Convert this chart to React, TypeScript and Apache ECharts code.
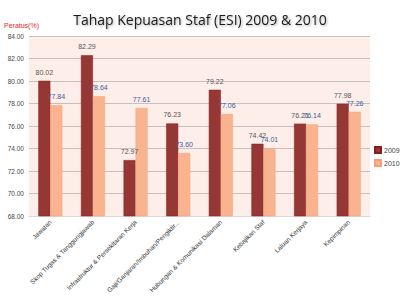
import React, { useEffect, useRef } from "react";
import * as echarts from "echarts";

const categories = [
  "Jawatan",
  "Skop Tugas & Tanggungjawab",
  "Infrastruktur & Persekitaran Kerja",
  "Gaji/Ganjaran/Imbuhan/Pengiktir...",
  "Hubungan & Komunikasi Dalaman",
  "Kebajikan Staf",
  "Laluan Kerjaya",
  "Kepimpinan",
];
const values2009 = [80.02, 82.29, 72.97, 76.23, 79.22, 74.42, 76.21, 77.98];
const values2010 = [77.84, 78.64, 77.61, 73.6, 77.06, 74.01, 76.14, 77.26];

export default function App() {
  const ref = useRef<HTMLDivElement>(null);
  useEffect(() => {
    document.body.style.margin = "0";
    const chart = echarts.init(ref.current!, null, { renderer: "svg" });
    chart.setOption({
      animation: false,
      backgroundColor: "#ffffff",
      title: {
        text: "Tahap Kepuasan Staf (ESI) 2009 & 2010",
        left: "center",
        top: 7,
        textStyle: {
          fontFamily: "Open Sans",
          fontSize: 14,
          fontWeight: 500,
          color: "#1a1a1a",
          textShadowColor: "rgba(0,0,0,0.35)",
          textShadowBlur: 2,
          textShadowOffsetX: 1,
          textShadowOffsetY: 1,
        },
      },
      graphic: [
        {
          type: "text",
          left: 4,
          top: 22,
          style: { text: "Peratus(%)", fill: "#e8262b", fontSize: 7, fontFamily: "Liberation Sans" },
        },
      ],
      legend: {
        orient: "vertical",
        left: 374,
        top: 146,
        itemWidth: 6,
        itemHeight: 6,
        itemGap: 5,
        icon: "rect",
        textStyle: { fontSize: 7, color: "#444", fontFamily: "Liberation Sans", padding: [0, 0, 0, -2] },
        padding: 0,
        data: ["2009", "2010"],
      },
      grid: { left: 29, right: 30, top: 36, bottom: 84, containLabel: false, show: true, backgroundColor: "#fdeee9", borderWidth: 0 },
      xAxis: {
        type: "category",
        data: categories,
        axisTick: { show: false },
        axisLine: { lineStyle: { color: "#d9d9d9" } },
        axisLabel: { rotate: 45, fontSize: 6.5, color: "#333", interval: 0, margin: 5, fontFamily: "Liberation Sans" },
      },
      yAxis: {
        type: "value",
        min: 68,
        max: 84,
        interval: 2,
        axisLine: { show: false },
        axisTick: { show: false },
        splitLine: { lineStyle: { color: "#c8c0bd" } },
        axisLabel: { fontSize: 6.5, color: "#444", formatter: (v: number) => v.toFixed(2), margin: 5, fontFamily: "Liberation Sans" },
      },
      series: [
        {
          name: "2009",
          type: "bar",
          data: values2009,
          barWidth: 12,
          barGap: "0%",
          itemStyle: { color: "#953735", borderColor: "#8a1c1a", borderWidth: 0.5 },
          label: { show: true, position: "top", fontSize: 7, color: "#555", formatter: (p: any) => p.value.toFixed(2), fontFamily: "Liberation Sans" },
        },
        {
          name: "2010",
          type: "bar",
          data: values2010,
          barWidth: 12,
          itemStyle: { color: "#f9b48f", borderColor: "#f0a07a", borderWidth: 0.5 },
          label: { show: true, position: "top", fontSize: 7, color: "#3d5c9e", formatter: (p: any) => p.value.toFixed(2), fontFamily: "Liberation Sans" },
        },
      ],
    });
    return () => chart.dispose();
  }, []);
  return <div ref={ref} style={{ width: 400, height: 300 }} />;
}
